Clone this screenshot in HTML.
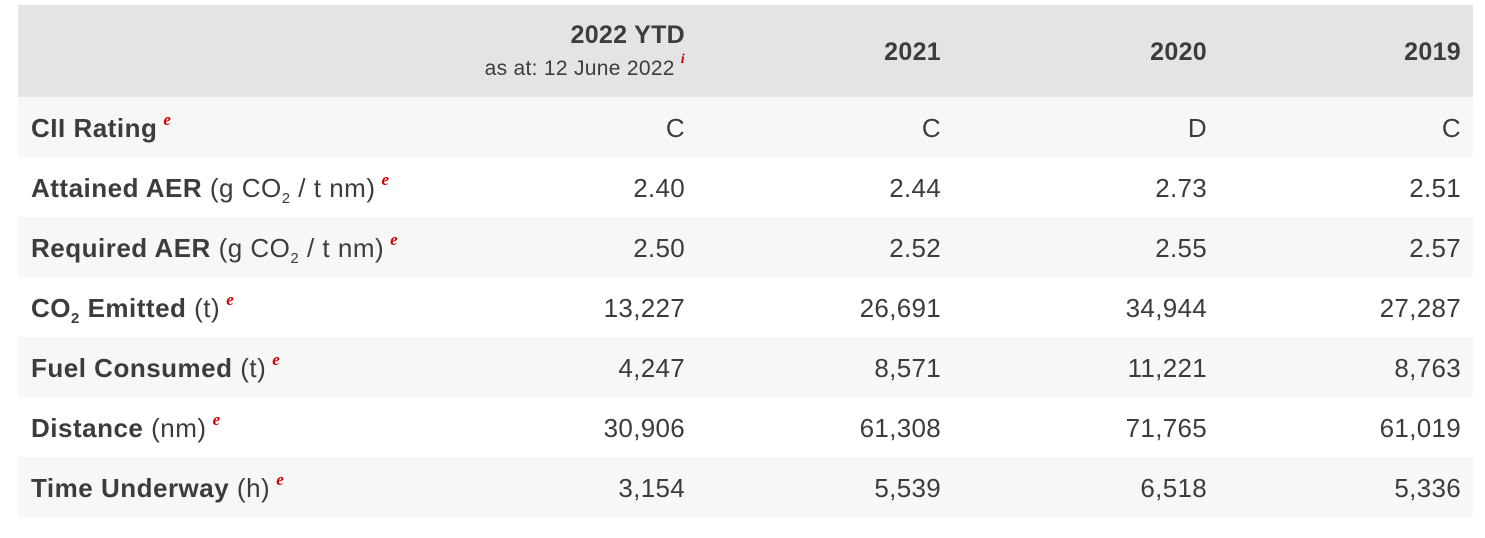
<!DOCTYPE html>
<html><head><style>
body{margin:0;width:1485px;height:538px;background:#fff;font-family:"Liberation Sans",sans-serif;color:#3a3d40;position:relative;overflow:hidden}
.row{position:absolute;left:18px;width:1455px;height:60px}
.c{position:absolute;font-size:26px;line-height:62px;height:60px;top:0;white-space:nowrap}
.l{left:13px;letter-spacing:0.5px}
.r{text-align:right;letter-spacing:0.3px}
b{font-weight:bold}
sup.e{color:#c00;font-family:"Liberation Serif",serif;font-style:italic;font-weight:bold;font-size:17px;line-height:0;position:relative;top:-12px;vertical-align:baseline;margin-left:6px}
sub{font-size:15px;line-height:0;position:relative;top:6px;vertical-align:baseline}
</style></head><body>
<div class="row" style="top:5px;height:92px;background:#e4e4e4">
<div class="c r" style="right:788px;top:14px;height:70px;line-height:32px;font-size:25px"><b>2022 YTD</b><br><span style="font-size:21px">as at: 12 June 2022<sup class="e" style="font-size:14px">i</sup></span></div>
<div class="c r" style="right:532px;line-height:94px;height:92px;font-size:25px"><b>2021</b></div>
<div class="c r" style="right:266px;line-height:94px;height:92px;font-size:25px"><b>2020</b></div>
<div class="c r" style="right:12px;line-height:94px;height:92px;font-size:25px"><b>2019</b></div>
</div>
<div class="row" style="top:97px;background:#f7f7f5"><div class="c l"><b>CII Rating</b><sup class="e">e</sup></div><div class="c r" style="right:788px">C</div><div class="c r" style="right:532px">C</div><div class="c r" style="right:266px">D</div><div class="c r" style="right:12px">C</div></div>
<div class="row" style="top:157px;background:#fff"><div class="c l"><b>Attained AER</b> (g CO<sub>2</sub> / t nm)<sup class="e">e</sup></div><div class="c r" style="right:788px">2.40</div><div class="c r" style="right:532px">2.44</div><div class="c r" style="right:266px">2.73</div><div class="c r" style="right:12px">2.51</div></div>
<div class="row" style="top:217px;background:#f7f7f5"><div class="c l"><b>Required AER</b> (g CO<sub>2</sub> / t nm)<sup class="e">e</sup></div><div class="c r" style="right:788px">2.50</div><div class="c r" style="right:532px">2.52</div><div class="c r" style="right:266px">2.55</div><div class="c r" style="right:12px">2.57</div></div>
<div class="row" style="top:277px;background:#fff"><div class="c l"><b>CO<sub>2</sub> Emitted</b> (t)<sup class="e">e</sup></div><div class="c r" style="right:788px">13,227</div><div class="c r" style="right:532px">26,691</div><div class="c r" style="right:266px">34,944</div><div class="c r" style="right:12px">27,287</div></div>
<div class="row" style="top:337px;background:#f7f7f5"><div class="c l"><b>Fuel Consumed</b> (t)<sup class="e">e</sup></div><div class="c r" style="right:788px">4,247</div><div class="c r" style="right:532px">8,571</div><div class="c r" style="right:266px">11,221</div><div class="c r" style="right:12px">8,763</div></div>
<div class="row" style="top:397px;background:#fff"><div class="c l"><b>Distance</b> (nm)<sup class="e">e</sup></div><div class="c r" style="right:788px">30,906</div><div class="c r" style="right:532px">61,308</div><div class="c r" style="right:266px">71,765</div><div class="c r" style="right:12px">61,019</div></div>
<div class="row" style="top:457px;background:#f7f7f5"><div class="c l"><b>Time Underway</b> (h)<sup class="e">e</sup></div><div class="c r" style="right:788px">3,154</div><div class="c r" style="right:532px">5,539</div><div class="c r" style="right:266px">6,518</div><div class="c r" style="right:12px">5,336</div></div>
</body></html>
